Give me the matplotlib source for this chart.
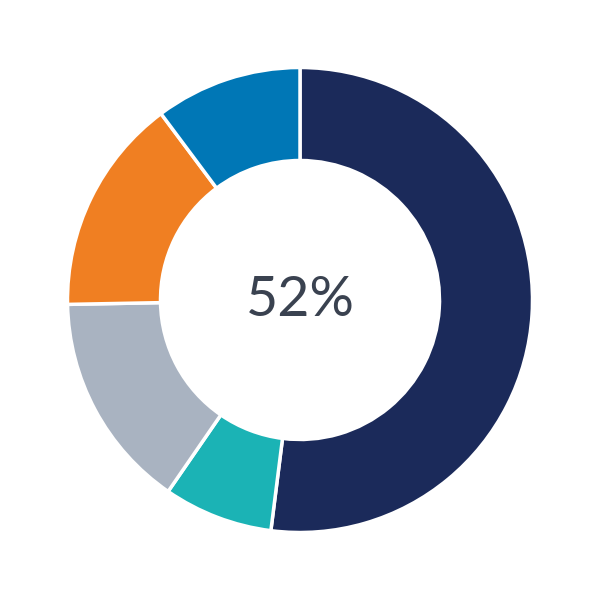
import matplotlib
matplotlib.use("Agg")
import matplotlib.pyplot as plt

labels = ["Navy", "Teal", "Gray", "Orange", "Blue"]
values = [52, 7.6, 15.1, 15.1, 10.2]
colors = ["#1b2a5a", "#1bb3b5", "#a9b3c1", "#f07f22", "#0077b6"]
center_label = "52%"

fig = plt.figure(figsize=(6, 6), dpi=100)
ax = fig.add_axes([0, 0, 1, 1])
outer_r = 0.775
ax.pie(values, colors=colors, startangle=90, counterclock=False, radius=outer_r,
       wedgeprops=dict(width=outer_r * 0.40, edgecolor="white", linewidth=2.5))
ax.text(0, 0, center_label, ha="center", va="center", fontsize=40,
        family="Lato", color="#3a4250")
ax.set_xlim(-1, 1)
ax.set_ylim(-1, 1)
ax.set_aspect("equal")
ax.axis("off")
fig.savefig("out.png", dpi=100, facecolor="white")
